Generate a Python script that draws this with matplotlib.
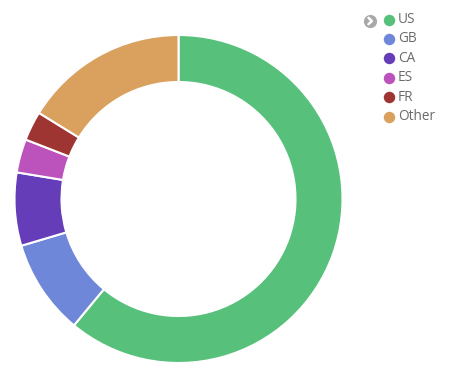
import matplotlib
matplotlib.use('Agg')
import matplotlib.pyplot as plt

countries = ['US', 'GB', 'CA', 'ES', 'FR', 'Other']
shares = [61.0, 9.4, 7.2, 3.3, 2.9, 16.2]
colors = ['#57c17b', '#6f87d8', '#663db8', '#bc52bc', '#9e3533', '#daa05d']

W, H = 474, 378
fig = plt.figure(figsize=(W / 100, H / 100), dpi=100)
ax = fig.add_axes([0, 0, 1, 1])

# donut, pixel coords (y measured from bottom)
ax.pie(shares, colors=colors, startangle=90, counterclock=False,
       radius=164, center=(178.5, H - 199),
       wedgeprops=dict(width=47, edgecolor='white', linewidth=1.5))

ax.set_xlim(0, W)
ax.set_ylim(0, H)
ax.set_aspect('equal')
ax.axis('off')

# legend toggle icon
ax.scatter([370], [H - 21], s=90, color='#a8a8a8', lw=0, zorder=3)
ax.plot([368.5, 371.8, 368.5], [H - 17.8, H - 21, H - 24.2], color='white', lw=1.8,
        solid_capstyle='round', zorder=4)

# legend
for i, (lab, c) in enumerate(zip(countries, colors)):
    y = H - (19.5 + i * 19.4)
    ax.scatter([389], [y], s=68, color=c, lw=0, zorder=3)
    ax.text(398, y, lab, fontsize=9.8, family='Open Sans', color='#6b6b6b',
            va='center', ha='left')

fig.savefig('out.png', dpi=100)
